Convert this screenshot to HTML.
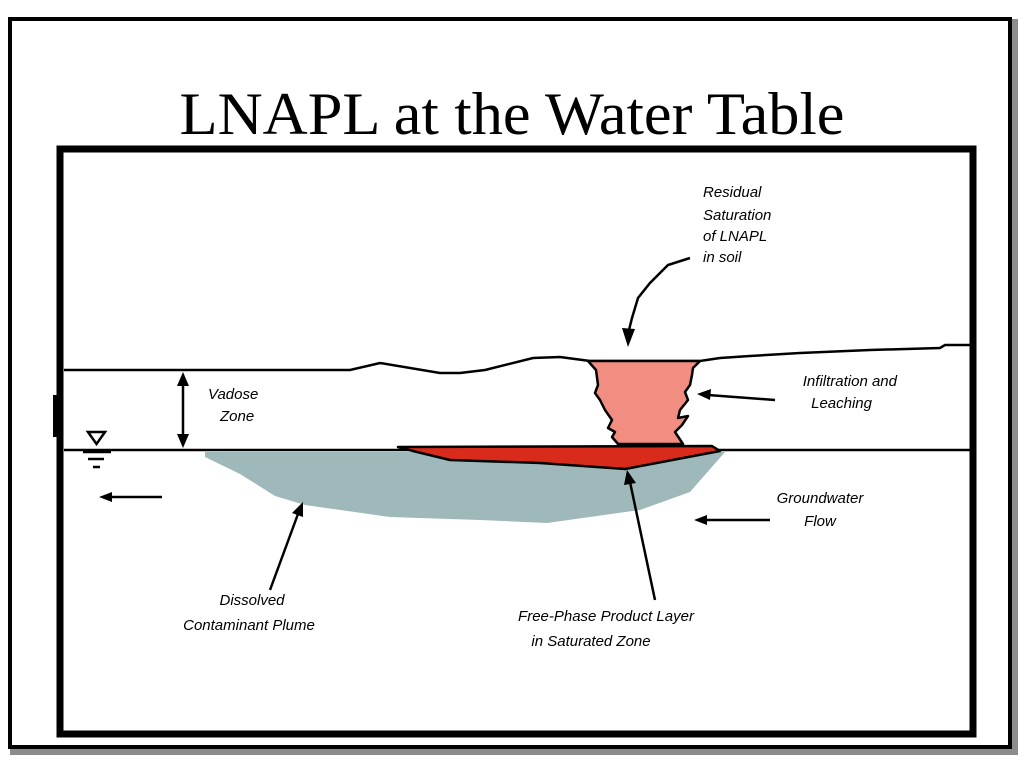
<!DOCTYPE html>
<html><head><meta charset="utf-8"><style>
html,body{margin:0;padding:0;background:#fff;}
svg{display:block;}
text{font-family:"Liberation Sans",sans-serif;font-style:italic;font-size:15px;fill:#000;}
</style></head><body>
<svg width="1024" height="768" viewBox="0 0 1024 768" xmlns="http://www.w3.org/2000/svg">
<rect width="1024" height="768" fill="#fff"/>
<!-- outer frame with shadow -->
<rect x="13" y="22" width="1002" height="730" fill="none" stroke="#8c8c8c" stroke-width="6"/>
<rect x="10" y="19" width="1000" height="728" fill="#fff" stroke="#000" stroke-width="4"/>
<!-- title -->
<text x="512" y="134" text-anchor="middle" textLength="665" lengthAdjust="spacingAndGlyphs" style="font-family:'Liberation Serif',serif;font-style:normal;font-size:60px;">LNAPL at the Water Table</text>
<!-- inner frame -->
<rect x="60" y="149" width="913" height="585" fill="#fff" stroke="#000" stroke-width="7"/>
<rect x="53" y="395" width="6" height="42" fill="#000"/>
<!-- plume -->
<polygon points="205,457 240,474 275,496 305,505 390,517 480,520 547,523 640,510 690,492 725,452 205,452" fill="#9fb8b9"/>
<!-- water table line -->
<line x1="64" y1="450" x2="970" y2="450" stroke="#000" stroke-width="2.5"/>
<!-- ground surface -->
<polyline points="64,370 350,370 380,363 440,373 460,373 485,370 533,358 560,357 590,361 700,361 720,358 750,356 800,353 870,350 940,348 945,345 970,345" fill="none" stroke="#000" stroke-width="2.5"/>
<!-- residual pink -->
<polygon points="588,361 700,361 693,368 692,375 690,385 685,392 688,400 680,410 678,418 688,416 682,425 675,432 683,444 618,444 612,437 615,432 608,428 612,420 605,410 600,400 595,393 598,385 596,370" fill="#f28d82" stroke="#000" stroke-width="2.5" stroke-linejoin="round"/>
<!-- free phase red -->
<polygon points="398,447 712,446 720,451 625,469 540,463 450,460 413,451" fill="#d92b1b" stroke="#000" stroke-width="2.5" stroke-linejoin="round"/>
<!-- vadose arrow -->
<line x1="183" y1="382" x2="183" y2="438" stroke="#000" stroke-width="2.5"/>
<polygon points="183,372 177,386 189,386" fill="#000"/>
<polygon points="183,448 177,434 189,434" fill="#000"/>
<!-- water table symbol -->
<polygon points="88,432 105,432 96.5,444" fill="none" stroke="#000" stroke-width="2.5"/>
<line x1="83" y1="452" x2="111" y2="452" stroke="#000" stroke-width="2.5"/>
<line x1="88" y1="459" x2="104" y2="459" stroke="#000" stroke-width="2.5"/>
<line x1="93" y1="467" x2="100" y2="467" stroke="#000" stroke-width="2.5"/>
<!-- left arrow -->
<line x1="110" y1="497" x2="162" y2="497" stroke="#000" stroke-width="2.5"/>
<polygon points="99,497 112,492 112,502" fill="#000"/>
<!-- groundwater flow arrow -->
<line x1="705" y1="520" x2="770" y2="520" stroke="#000" stroke-width="2.5"/>
<polygon points="694,520 707,515 707,525" fill="#000"/>
<!-- infiltration arrow -->
<line x1="708" y1="395" x2="775" y2="400" stroke="#000" stroke-width="2.5"/>
<polygon points="697,394 711,389 710,400" fill="#000"/>
<!-- residual arrow -->
<polyline points="690,258 668,265 650,283 638,298 632,318 629,330" fill="none" stroke="#000" stroke-width="2.5"/>
<polygon points="628,347 622,328 635,329" fill="#000"/>
<!-- free phase arrow -->
<line x1="655" y1="600" x2="630" y2="482" stroke="#000" stroke-width="2.5"/>
<polygon points="627,470 624,485 636,483" fill="#000"/>
<!-- plume arrow -->
<line x1="270" y1="590" x2="298" y2="514" stroke="#000" stroke-width="2.5"/>
<polygon points="303,502 292,513 303,517" fill="#000"/>
<!-- labels -->
<text x="703" y="197">Residual</text>
<text x="703" y="220">Saturation</text>
<text x="703" y="241">of LNAPL</text>
<text x="703" y="262">in soil</text>
<text x="208" y="399">Vadose</text>
<text x="220" y="421">Zone</text>
<text x="897" y="386" text-anchor="end">Infiltration and</text>
<text x="872" y="408" text-anchor="end">Leaching</text>
<text x="820" y="503" text-anchor="middle">Groundwater</text>
<text x="820" y="526" text-anchor="middle">Flow</text>
<text x="252" y="605" text-anchor="middle">Dissolved</text>
<text x="249" y="630" text-anchor="middle">Contaminant Plume</text>
<text x="606" y="621" text-anchor="middle">Free-Phase Product Layer</text>
<text x="591" y="646" text-anchor="middle">in Saturated Zone</text>
</svg>
</body></html>
